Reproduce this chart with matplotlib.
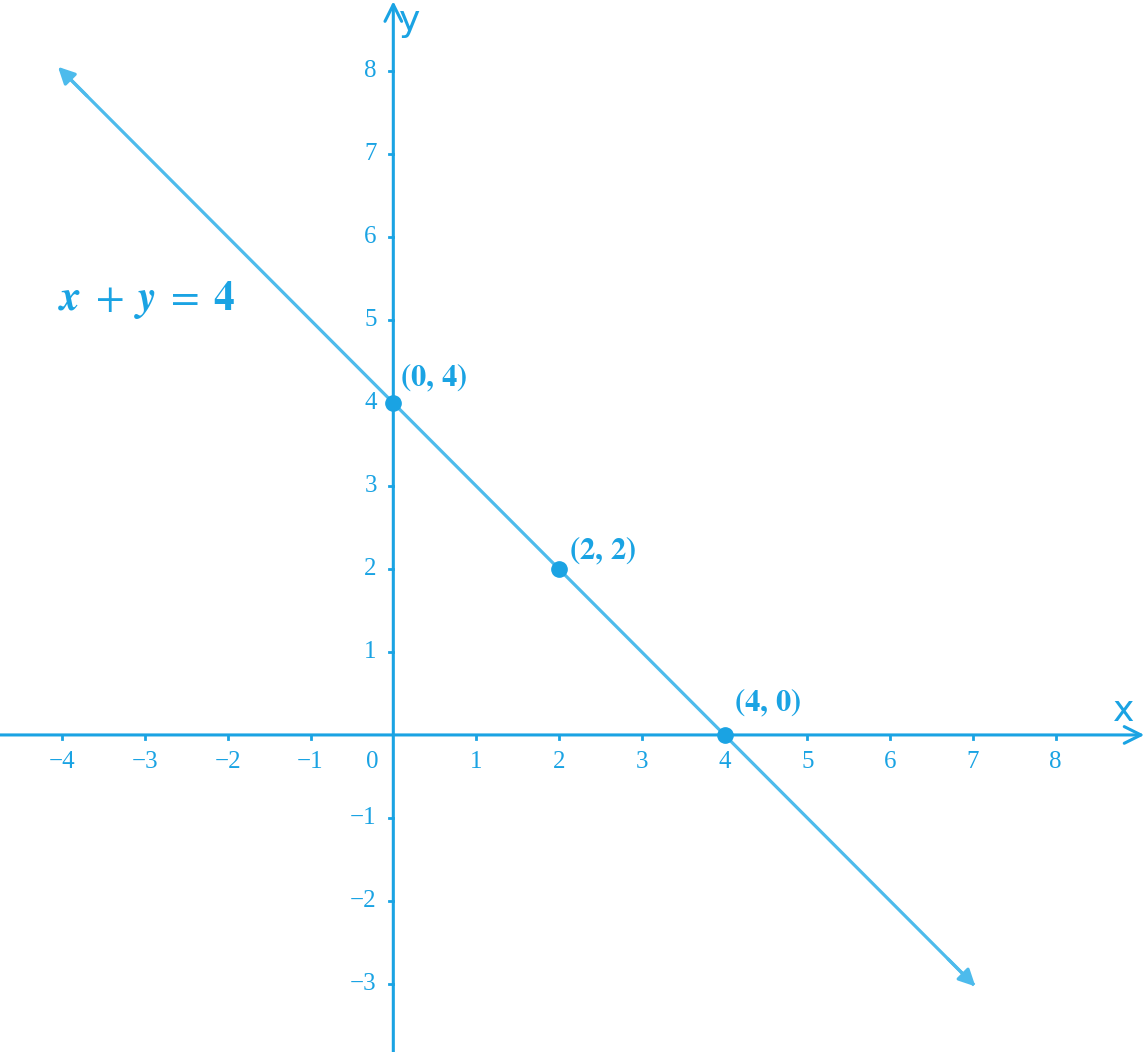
import matplotlib
matplotlib.use("Agg")
from matplotlib import pyplot as plt
import numpy as np

# data
x_ticks = [-4, -3, -2, -1, 1, 2, 3, 4, 5, 6, 7, 8]
y_ticks = [-3, -2, -1, 1, 2, 3, 4, 5, 6, 7, 8]
line_x = [-4, 7]
line_y = [8, -3]
pts_x = [0, 2, 4]
pts_y = [4, 2, 0]
pt_labels = [r'$\mathbf{(0,\,4)}$', r'$\mathbf{(2,\,2)}$', r'$\mathbf{(4,\,0)}$']

axis_col = '#1aa3e3'
line_col = '#4dbbec'

fig = plt.figure(figsize=(11.46, 10.52), dpi=100)
ax = fig.add_axes([0, 0, 1, 1])
ax.set_xlim(-4.75, 9.09)
ax.set_ylim(-3.82, 8.855)
ax.axis('off')

# axes with open arrow heads
ax.annotate('', xy=(9.07, 0), xytext=(-4.75, 0),
            arrowprops=dict(arrowstyle='->', color=axis_col, lw=2.2,
                            mutation_scale=30, shrinkA=0, shrinkB=0))
ax.annotate('', xy=(0, 8.84), xytext=(0, -3.82),
            arrowprops=dict(arrowstyle='->', color=axis_col, lw=2.2,
                            mutation_scale=30, shrinkA=0, shrinkB=0))

# tick marks and labels
for t in x_ticks:
    ax.plot([t, t], [0, -0.05], color=axis_col, lw=2)
    lab = str(t).replace('-', '\u2212')
    ax.text(t, -0.32, lab, ha='center', va='center', color=axis_col,
            fontsize=18, family='Liberation Serif')
for t in y_ticks:
    ax.plot([0, -0.05], [t, t], color=axis_col, lw=2)
    lab = str(t).replace('-', '\u2212')
    ax.text(-0.2, t, lab, ha='right', va='center', color=axis_col,
            fontsize=18, family='Liberation Serif')
ax.text(-0.26, -0.32, '0', ha='center', va='center', color=axis_col,
        fontsize=18, family='Liberation Serif')

ax.text(8.82, 0.08, 'x', ha='center', va='bottom', color=axis_col, fontsize=26)
ax.text(0.07, 8.6, 'y', ha='left', va='center', color=axis_col, fontsize=26)

# the line with filled arrows at both ends
ax.plot(line_x, line_y, color=line_col, lw=2.3)
ax.annotate('', xy=(line_x[0] - 0.05, line_y[0] + 0.05), xytext=(line_x[0] + 0.3, line_y[0] - 0.3),
            arrowprops=dict(arrowstyle='-|>', color=line_col, lw=2.3,
                            mutation_scale=25, shrinkA=0, shrinkB=0))
ax.annotate('', xy=(line_x[1] + 0.03, line_y[1] - 0.03), xytext=(line_x[1] - 0.3, line_y[1] + 0.3),
            arrowprops=dict(arrowstyle='-|>', color=line_col, lw=2.3,
                            mutation_scale=25, shrinkA=0, shrinkB=0))

ax.plot(pts_x, pts_y, 'o', color=axis_col, markersize=11, zorder=5)
offsets = [(0.08, 0.3), (0.12, 0.22), (0.12, 0.38)]
for px, py, lab, (dx, dy) in zip(pts_x, pts_y, pt_labels, offsets):
    ax.text(px + dx, py + dy, lab, ha='left', va='center', color=axis_col,
            fontsize=22, math_fontfamily='stix')

ax.text(-4.05, 5.24, r'$\mathbfit{x}\;+\;\mathbfit{y}\;=\;\mathbf{4}$', ha='left', va='center',
        color=axis_col, fontsize=30, math_fontfamily='stix')

fig.savefig('out.png', dpi=100)
